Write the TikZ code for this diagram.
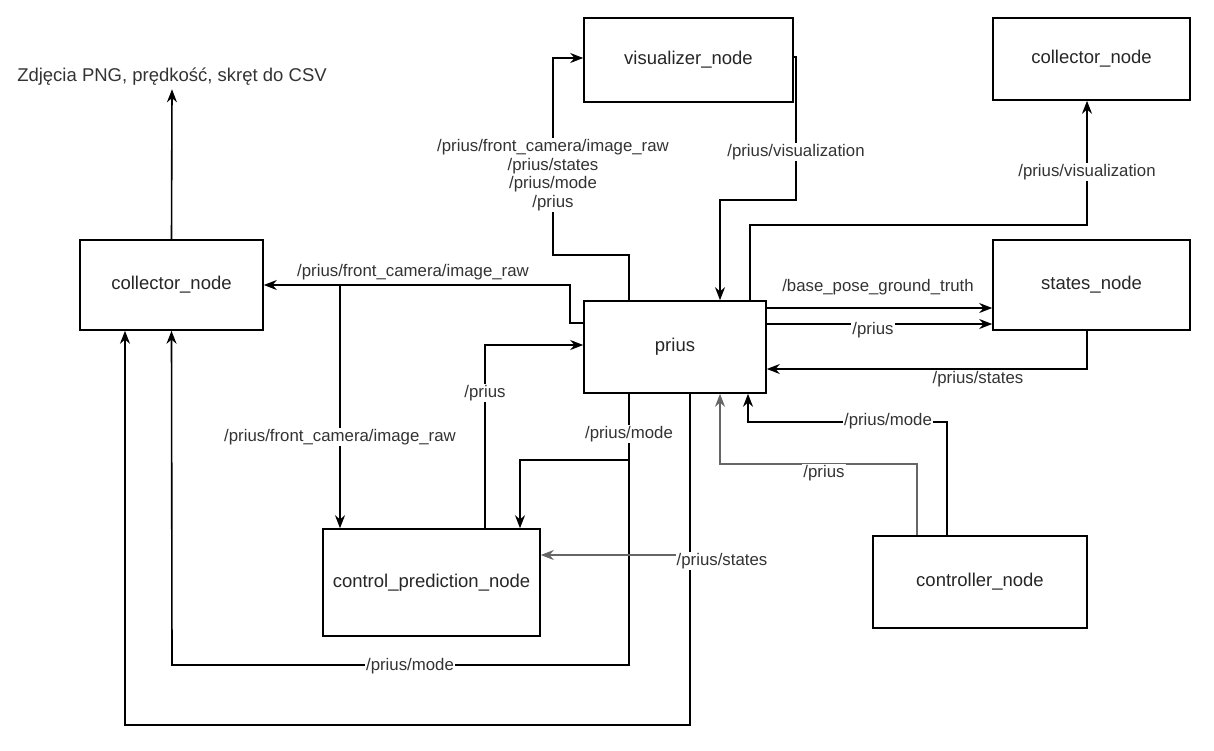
\documentclass[tikz,border=0pt]{standalone}
\usepackage{fontspec}
\setmainfont{Liberation Sans}
\usetikzlibrary{arrows.meta}
\begin{document}
\begin{tikzpicture}[x=1pt,y=-1pt,
  box/.style={draw,line width=1.6pt,minimum width=#1,font=\fontsize{18.5}{20}\selectfont,text=black!85},
  lab/.style={fill=white,inner sep=1pt,font=\fontsize{16.8}{18}\selectfont,text=black!80},
  con/.style={line width=1.6pt,-{Stealth[length=13pt,width=10pt]}},
  gcon/.style={con,draw=black!60}]
\useasboundingbox (0,0) rectangle (1214,750);
\node[box=209pt,minimum height=84pt] (vis) at (688.5,60) {visualizer\_node};
\node[box=197pt,minimum height=82pt] (col2) at (1091.5,59) {collector\_node};
\node[box=183pt,minimum height=90pt] (col) at (171.5,285) {collector\_node};
\node[box=197pt,minimum height=90pt] (st) at (1091.5,285) {states\_node};
\node[box=182pt,minimum height=92pt] (pr) at (675,347) {prius};
\node[box=217pt,minimum height=107pt] (cp) at (431.5,582.5) {control\_prediction\_node};
\node[box=214pt,minimum height=92pt] (ct) at (980,582) {controller\_node};
\node[font=\fontsize{18.5}{20}\selectfont,text=black!80] (csv) at (172,77) {Zdjęcia PNG, prędkość, skręt do CSV};
\coordinate (j1) at (340,285);
\coordinate (j2) at (629,460);
\coordinate (j3) at (690,555);
% collector -> csv
\draw[con] (col.north) -- (csv.south);
% prius -> collector (front camera)
\draw[con] (pr.west |- 0,323) -- (570,323) -- (570,285) -- (col.east);
\node[lab] at (413,272) {/prius/front\_camera/image\_raw};
\draw[con] (j1) -- (j1 |- cp.north);
\node[lab] at (340,437) {/prius/front\_camera/image\_raw};
% prius -> visualizer
\draw[con] (629,0 |- pr.north) -- (629,255) -- (553,255) -- (553,58) -- (vis.west |- 0,58);
\node[lab,align=center,font=\fontsize{16.8}{18.5}\selectfont] at (553,175) {/prius/front\_camera/image\_raw\\/prius/states\\/prius/mode\\/prius};
% visualizer -> prius
\draw[con] (vis.east |- 0,57) -- (796,57) -- (796,200) -- (720,200) -- (720,0 |- pr.north);
\node[lab] at (796,152) {/prius/visualization};
% prius -> collector2
\draw[con] (750,0 |- pr.north) -- (750,225) -- (1087,225) -- (1087,0 |- col2.south);
\node[lab] at (1087,172) {/prius/visualization};
% prius -> states
\draw[con] (pr.east |- 0,308) -- (st.west |- 0,308);
\node[lab,fill=none] at (878,287) {/base\_pose\_ground\_truth};
\draw[con] (pr.east |- 0,324) -- (st.west |- 0,324);
\node[lab] at (873,330) {/prius};
% states -> prius
\draw[con] (1087,0 |- st.south) -- (1087,369) -- (pr.east |- 0,369);
\node[lab] at (978,379) {/prius/states};
% controller -> prius
\draw[con] (947,0 |- ct.north) -- (947,422) -- (748,422) -- (748,0 |- pr.south);
\node[lab] at (888,421) {/prius/mode};
\draw[gcon] (917,0 |- ct.north) -- (917,464) -- (720,464) -- (720,0 |- pr.south);
\node[lab] at (824,473) {/prius};
% prius mode -> control prediction and collector
\draw[con] (629,0 |- pr.south) -- (j2) -- (520,460) -- (520,0 |- cp.north);
\node[lab] at (629,434) {/prius/mode};
\draw[con] (j2) -- (629,665) -- (172,665) -- (col.south);
\node[lab] at (410,666) {/prius/mode};
% control prediction -> prius
\draw[con] (485,0 |- cp.north) -- (485,345) -- (pr.west |- 0,345);
\node[lab] at (485,393) {/prius};
% prius -> collector (bottom loop)
\draw[con] (690,0 |- pr.south) -- (690,725) -- (125,725) -- (125,0 |- col.south);
% states -> control prediction
\draw[gcon] (j3) -- (cp.east |- j3);
\node[lab] at (722,561) {/prius/states};
\end{tikzpicture}
\end{document}
